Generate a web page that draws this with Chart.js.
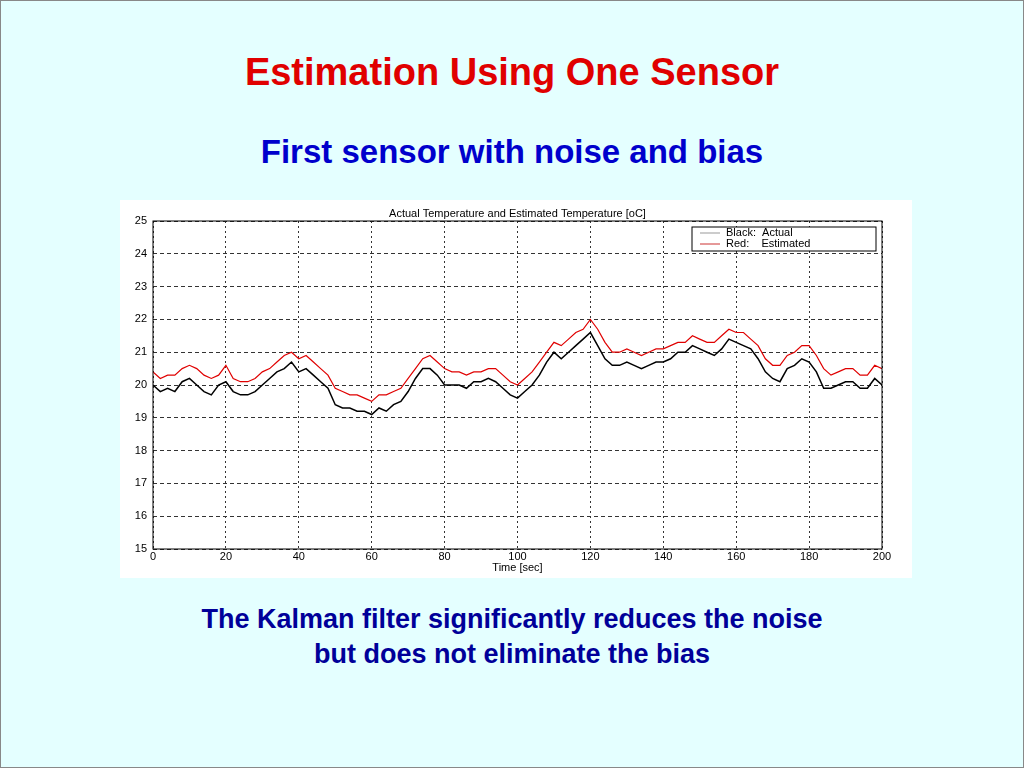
<!DOCTYPE html>
<html>
<head>
<meta charset="utf-8">
<script src="https://cdn.jsdelivr.net/npm/chart.js@4"></script>
<style>
  body { margin: 0; width: 1024px; height: 768px; background: #e4ffff; position: relative; overflow: hidden; font-family: Arial, "Liberation Sans", sans-serif; }
  .frame { position: absolute; left: 0; top: 0; width: 1022px; height: 766px; border: 1px solid #888; }
  h1 { position: absolute; top: 50px; width: 100%; text-align: center; margin: 0; color: #e00000; font-size: 38px; line-height: 44px; }
  h2 { position: absolute; top: 133px; width: 100%; text-align: center; margin: 0; color: #0000cc; font-size: 33px; line-height: 38px; }
  .note { position: absolute; top: 602px; width: 100%; text-align: center; color: #000099; font-weight: bold; font-size: 27px; line-height: 35px; }
  #wrap { position: absolute; left: 120px; top: 200px; width: 792px; height: 378px; background: #fff; }
</style>
</head>
<body>
<div class="frame"></div>
<h1>Estimation Using One Sensor</h1>
<h2>First sensor with noise and bias</h2>
<div id="wrap"><canvas id="c"></canvas></div>
<div class="note">The Kalman filter significantly reduces the noise<br>but does not eliminate the bias</div>
<script>
// time in seconds, 2 s steps
const times = [];
for (let t = 0; t <= 200; t += 2) times.push(t);

const actual = [20.0,19.8,19.9,19.8,20.1,20.2,20.0,19.8,19.7,20.0,20.1,19.8,19.7,19.7,19.8,20.0,20.2,20.4,20.5,20.7,
  20.4,20.5,20.3,20.1,19.9,19.4,19.3,19.3,19.2,19.2,19.1,19.3,19.2,19.4,19.5,19.8,20.2,20.5,20.5,20.3,
  20.0,20.0,20.0,19.9,20.1,20.1,20.2,20.1,19.9,19.7,19.6,19.8,20.0,20.3,20.7,21.0,20.8,21.0,21.2,21.4,
  21.6,21.2,20.8,20.6,20.6,20.7,20.6,20.5,20.6,20.7,20.7,20.8,21.0,21.0,21.2,21.1,21.0,20.9,21.1,21.4,
  21.3,21.2,21.1,20.8,20.4,20.2,20.1,20.5,20.6,20.8,20.7,20.4,19.9,19.9,20.0,20.1,20.1,19.9,19.9,20.2,20.0];
const estimated = [20.4,20.2,20.3,20.3,20.5,20.6,20.5,20.3,20.2,20.3,20.6,20.2,20.1,20.1,20.2,20.4,20.5,20.7,20.9,21.0,
  20.8,20.9,20.7,20.5,20.3,19.9,19.8,19.7,19.7,19.6,19.5,19.7,19.7,19.8,19.9,20.2,20.5,20.8,20.9,20.7,
  20.5,20.4,20.4,20.3,20.4,20.4,20.5,20.5,20.3,20.1,20.0,20.2,20.4,20.7,21.0,21.3,21.2,21.4,21.6,21.7,
  22.0,21.7,21.3,21.0,21.0,21.1,21.0,20.9,21.0,21.1,21.1,21.2,21.3,21.3,21.5,21.4,21.3,21.3,21.5,21.7,
  21.6,21.6,21.4,21.2,20.8,20.6,20.6,20.9,21.0,21.2,21.2,20.9,20.5,20.3,20.4,20.5,20.5,20.3,20.3,20.6,20.5];

const xTicks = [0,20,40,60,80,100,120,140,160,180,200];
const yTicks = [15,16,17,18,19,20,21,22,23,24,25];
const legendItems = [
  { label: 'Black:  Actual', color: '#999999' },
  { label: 'Red:    Estimated', color: '#cc3333' },
];

const pts = arr => arr.map((v, i) => ({ x: times[i], y: v }));

const decor = {
  id: 'decor',
  afterDraw(chart) {
    const { ctx, chartArea: a } = chart;
    ctx.save();
    ctx.fillStyle = '#000';
    ctx.font = '11px Arial';
    ctx.textAlign = 'center';
    ctx.textBaseline = 'bottom';
    ctx.fillText('Actual Temperature and Estimated Temperature [oC]', (a.left + a.right) / 2, a.top - 2);
    ctx.textBaseline = 'top';
    ctx.fillText('Time [sec]', (a.left + a.right) / 2, a.bottom + 13);
    // border
    ctx.strokeStyle = '#000';
    ctx.lineWidth = 1;
    ctx.strokeRect(a.left, a.top, a.right - a.left, a.bottom - a.top);
    // legend box
    const bx = a.right - 190, by = a.top + 6, bw = 184, bh = 24;
    ctx.fillStyle = '#fff';
    ctx.fillRect(bx, by, bw, bh);
    ctx.strokeRect(bx, by, bw, bh);
    ctx.textAlign = 'left';
    ctx.textBaseline = 'middle';
    legendItems.forEach((it, i) => {
      const yy = by + 6 + i * 11;
      ctx.strokeStyle = it.color;
      ctx.beginPath(); ctx.moveTo(bx + 8, yy); ctx.lineTo(bx + 28, yy); ctx.stroke();
      ctx.fillStyle = '#000';
      ctx.fillText(it.label, bx + 34, yy);
    });
    ctx.restore();
  }
};

new Chart(document.getElementById('c'), {
  type: 'line',
  data: {
    datasets: [
      { label: 'Actual', data: pts(actual), borderColor: '#000', borderWidth: 1.5, pointRadius: 0, tension: 0 },
      { label: 'Estimated', data: pts(estimated), borderColor: '#e00000', borderWidth: 1.2, pointRadius: 0, tension: 0 },
    ],
  },
  options: {
    responsive: true,
    maintainAspectRatio: false,
    animation: false,
    layout: { padding: { top: 21, right: 30, left: 0, bottom: 0 } },
    plugins: { legend: { display: false }, tooltip: { enabled: false } },
    scales: {
      x: {
        type: 'linear', min: 0, max: 200,
        afterBuildTicks: s => { s.ticks = xTicks.map(v => ({ value: v })); },
        afterFit: s => { s.height = 29; },
        grid: { color: '#333', drawTicks: false },
        border: { display: false, dash: [2, 3] },
        ticks: { color: '#000', font: { family: 'Arial', size: 11 }, padding: 1, maxRotation: 0 },
      },
      y: {
        min: 15, max: 25,
        afterBuildTicks: s => { s.ticks = yTicks.map(v => ({ value: v })); },
        afterFit: s => { s.width = 33; },
        grid: { color: '#333', drawTicks: false },
        border: { display: false, dash: [4, 3] },
        ticks: { color: '#000', font: { family: 'Arial', size: 11 }, padding: 6 },
      },
    },
  },
  plugins: [decor],
});
</script>
</body>
</html>
